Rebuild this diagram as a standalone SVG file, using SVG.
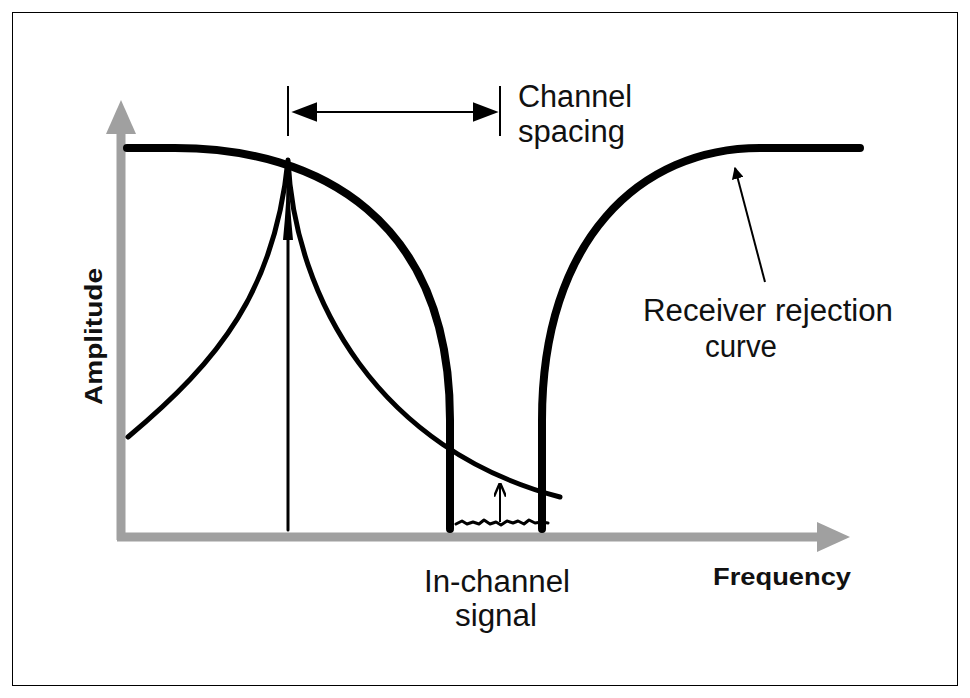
<svg xmlns="http://www.w3.org/2000/svg" width="970" height="698" viewBox="0 0 970 698">
<style>
.t{font-family:"Liberation Sans",Arial,sans-serif;font-size:31px;fill:#111}
.b{font-family:"Liberation Sans",Arial,sans-serif;font-size:24px;font-weight:bold;fill:#111}
.k{fill:none;stroke:#000;stroke-linecap:round;stroke-linejoin:round}
</style>
<defs>
<marker id="ah" viewBox="0 0 10 10" refX="9" refY="5" markerWidth="12" markerHeight="12" markerUnits="userSpaceOnUse" orient="auto-start-reverse"><path d="M0,0L10,5L0,10z" fill="#000"/></marker>
<marker id="sm" viewBox="0 0 10 10" refX="9" refY="5" markerWidth="14" markerHeight="12" markerUnits="userSpaceOnUse" orient="auto-start-reverse" preserveAspectRatio="none"><path d="M0,0L10,5L0,10" fill="none" stroke="#000" stroke-width="2"/></marker>
<marker id="big" viewBox="0 0 10 10" refX="9" refY="5" markerWidth="26" markerHeight="20" markerUnits="userSpaceOnUse" orient="auto-start-reverse" preserveAspectRatio="none"><path d="M0,0L10,5L0,10z" fill="#000"/></marker>
</defs>
<rect width="970" height="698" fill="#fff"/>
<rect x="12.5" y="12.5" width="945" height="673" fill="none" stroke="#000" stroke-width="1"/>
<g id="axes">
<path d="M121,540V130" stroke="#a0a0a0" stroke-width="9"/>
<path d="M106,134L121,100L136,134z" fill="#a0a0a0"/>
<path d="M117,537H820" stroke="#a0a0a0" stroke-width="9"/>
<path d="M817,522L850,537L817,552z" fill="#a0a0a0"/>
</g>
<g id="rejection">
<path class="k" stroke-width="8" d="M127,148H175C320,148 450,220 450,420V529"/>
<path class="k" stroke-width="8" d="M542,529V420C542,240 640,148 760,148H860"/>
</g>
<g id="signal">
<path class="k" stroke-width="5" d="M128,437C220,360 275,290 288,160C295,300 380,450 560,497"/>
<path class="k" stroke-width="3" d="M288,160V530"/>
<path d="M283,240Q287,200 288,158Q289,200 293,240z" fill="#000"/>
<path class="k" stroke-width="3" d="M456,524l6,-3 5,3 6,-2 6,2 5,-4 6,4 6,-2 5,3 6,-4 6,2 5,-2 6,3 5,-4 6,3 7,-1 6,1"/>
<path stroke="#000" stroke-width="2" d="M500,522V484" marker-end="url(#sm)"/>
</g>
<g id="connectors">
<path d="M288,86V136M500,86V136" stroke="#000" stroke-width="2"/>
<path d="M294,112H496" stroke="#000" stroke-width="2" marker-start="url(#big)" marker-end="url(#big)"/>
<path d="M765,282L735,168" stroke="#000" stroke-width="2" marker-end="url(#ah)"/>
</g>
<g id="labels">
<text class="t" x="518" y="107" textLength="114" lengthAdjust="spacingAndGlyphs">Channel</text>
<text class="t" x="518" y="142" textLength="107" lengthAdjust="spacingAndGlyphs">spacing</text>
<text class="t" x="643" y="321" textLength="250" lengthAdjust="spacingAndGlyphs">Receiver rejection</text>
<text class="t" x="705" y="357" textLength="72" lengthAdjust="spacingAndGlyphs">curve</text>
<text class="t" x="424" y="592" textLength="146" lengthAdjust="spacingAndGlyphs">In-channel</text>
<text class="t" x="455" y="626" textLength="82" lengthAdjust="spacingAndGlyphs">signal</text>
<text class="b" x="713" y="585" textLength="138" lengthAdjust="spacingAndGlyphs">Frequency</text>
<text class="b" transform="translate(102,405) rotate(-90)" textLength="137" lengthAdjust="spacingAndGlyphs">Amplitude</text>
</g>
</svg>
